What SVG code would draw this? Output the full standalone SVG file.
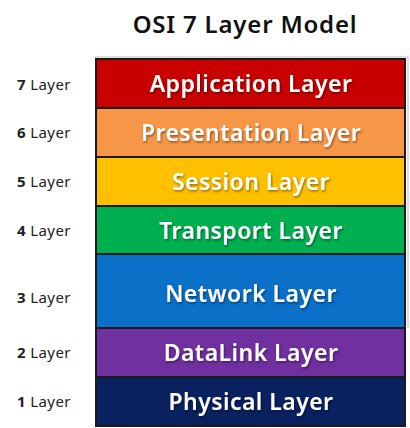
<svg xmlns="http://www.w3.org/2000/svg" width="410" height="428" viewBox="0 0 410 428">
<style>
.t{font-family:"Noto Sans","Open Sans",sans-serif;font-size:23px;font-weight:600;letter-spacing:0.45px;fill:#fff;text-anchor:middle;dominant-baseline:central;filter:url(#sh)}
.l{font-family:"Noto Sans","Open Sans",sans-serif;font-size:15px;letter-spacing:0.4px;fill:#222;dominant-baseline:central}
.l tspan.n{font-weight:700}
.b{stroke:#1a1a1a;stroke-width:2}
.title{font-family:"Noto Sans","Open Sans",sans-serif;font-size:24px;font-weight:600;letter-spacing:0.8px;fill:#111;text-anchor:middle}
</style>
<defs>
<filter id="sh" x="-10%" y="-20%" width="120%" height="150%">
<feDropShadow dx="1" dy="1.5" stdDeviation="0.8" flood-color="#000" flood-opacity="0.45"/>
</filter>
</defs>
<rect width="410" height="428" fill="#fff"/>
<text class="title" x="245" y="33">OSI 7 Layer Model</text>
<g id="frame"><line x1="95" y1="57" x2="408" y2="57" stroke="#bbb" stroke-width="1"/><line x1="408" y1="57" x2="408" y2="328" stroke="#bbb" stroke-width="1"/></g>
<g id="layer7"><rect class="b" x="96" y="59" width="309" height="49" fill="#C90000"/><text class="t" x="251" y="83">Application Layer</text><text class="l" x="17" y="84"><tspan class="n">7</tspan> Layer</text></g>
<g id="layer6"><rect class="b" x="96" y="108" width="309" height="49" fill="#F79646"/><text class="t" x="251" y="132">Presentation Layer</text><text class="l" x="17" y="132"><tspan class="n">6</tspan> Layer</text></g>
<g id="layer5"><rect class="b" x="96" y="157" width="309" height="49" fill="#FFC000"/><text class="t" x="251" y="181">Session Layer</text><text class="l" x="17" y="181"><tspan class="n">5</tspan> Layer</text></g>
<g id="layer4"><rect class="b" x="96" y="206" width="309" height="48" fill="#00B050"/><text class="t" x="251" y="230">Transport Layer</text><text class="l" x="17" y="230"><tspan class="n">4</tspan> Layer</text></g>
<g id="layer3"><rect class="b" x="96" y="254" width="309" height="74" fill="#0A70C8"/><text class="t" x="251" y="293">Network Layer</text><text class="l" x="17" y="297"><tspan class="n">3</tspan> Layer</text></g>
<g id="layer2"><rect class="b" x="96" y="328" width="309" height="49" fill="#7030A0"/><text class="t" x="251" y="352">DataLink Layer</text><text class="l" x="17" y="352"><tspan class="n">2</tspan> Layer</text></g>
<g id="layer1"><rect class="b" x="96" y="377" width="309" height="49" fill="#0A2160"/><text class="t" x="251" y="401">Physical Layer</text><text class="l" x="17" y="401"><tspan class="n">1</tspan> Layer</text></g>
<g id="connectors"/>
</svg>
